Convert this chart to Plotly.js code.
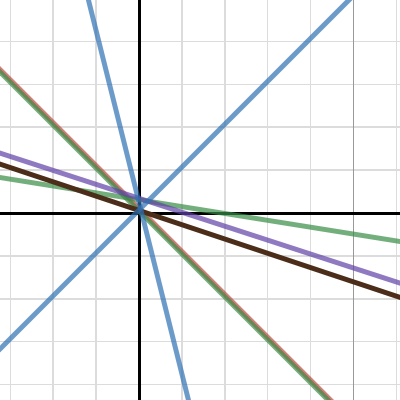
<!DOCTYPE html>
<html>
<head>
<meta charset="utf-8">
<script src="https://cdn.plot.ly/plotly-3.0.1.min.js"></script>
<style>
  html, body { margin: 0; padding: 0; background: #fff; }
  #graph { width: 400px; height: 400px; }
</style>
</head>
<body>
<div id="graph"></div>
<script>
// Lines y = m*x + b (one grid square = 1 unit)
var names = ["red", "green", "green2", "purple", "brown", "blue1", "blue2"]
var slopes = [-1.0, -1.0, -0.16, -0.325, -0.333, -4.0, 1.0]
var intercepts = [0.105, 0.047, 0.31, 0.345, 0.06, 0.25, 0.07]
var colors = ["rgba(199,68,64,0.7)", "rgba(56,140,70,0.7)", "rgba(56,140,70,0.7)",
  "rgba(96,66,166,0.7)", "#4b2d1a", "rgba(45,112,179,0.7)", "rgba(45,112,179,0.7)"]

// visible window
var xRange = [-3.24, 6.084]
var yRange = [-4.359, 4.965]

// Build a trace for each line across the window
var traces = []
names.forEach((n, i) => {
  var xs = [xRange[0] - 1, xRange[1] + 1]
  var ys = xs.map((x) => slopes[i] * x + intercepts[i])
  traces.push({
    x: xs,
    y: ys,
    mode: 'lines',
    name: n,
    line: {color: colors[i], width: 5},
    hoverinfo: 'skip',
    type: 'scatter'
  })
})

var axisStyle = {
  showticklabels: false,
  ticks: '',
  showgrid: true,
  dtick: 5,
  gridcolor: '#999999',
  gridwidth: 1.5,
  minor: {dtick: 1, showgrid: true, gridcolor: '#dcdcdc', gridwidth: 1.5},
  zeroline: true,
  zerolinecolor: '#000000',
  zerolinewidth: 3,
  showline: false,
  fixedrange: true
}

var layout = {
  width: 400,
  height: 400,
  margin: {l: 0, r: 0, t: 0, b: 0},
  showlegend: false,
  paper_bgcolor: '#ffffff',
  plot_bgcolor: '#ffffff',
  xaxis: Object.assign({}, axisStyle, {range: xRange}),
  yaxis: Object.assign({}, axisStyle, {range: yRange})
}

Plotly.newPlot('graph', traces, layout, {staticPlot: true, displayModeBar: false})
</script>
</body>
</html>
